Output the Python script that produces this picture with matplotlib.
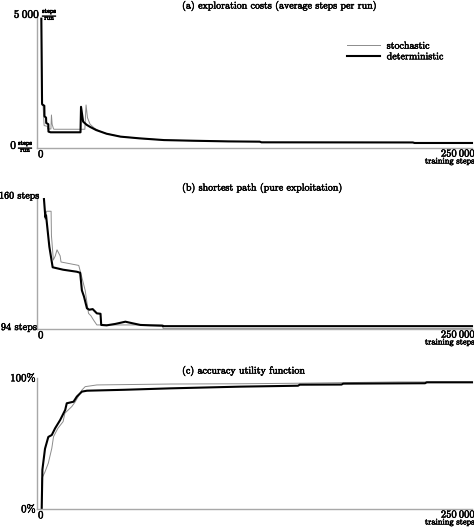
import matplotlib
matplotlib.use("Agg")
import matplotlib.pyplot as plt
import matplotlib.patheffects as pe
from matplotlib.transforms import offset_copy

plt.rcParams['font.family'] = ['cmr10', 'DejaVu Serif']
plt.rcParams['mathtext.fontset'] = 'cm'
plt.rcParams['axes.unicode_minus'] = False
plt.rcParams['axes.formatter.use_mathtext'] = True

# ---------------- data (training steps, value) ----------------
# (a) exploration costs (average steps per run)
a_det_x = [2500, 2900, 3000, 4200, 4300, 5200, 5300, 6500, 6600, 7800, 25000, 25300,
           26500, 28500, 30500, 34000, 40000, 48000, 59000, 73000, 90000, 110000,
           128000, 129000, 216000, 217000, 250000]
a_det_y = [4900, 1700, 1650, 1600, 1200, 1150, 950, 900, 620, 595, 595, 1560,
           1000, 880, 800, 680, 540, 430, 365, 300, 275, 250,
           240, 215, 210, 190, 190]
a_sto_x = [2500, 2900, 3500, 4000, 4100, 6000, 6100, 8000, 8300, 8700, 9500, 10000,
           27500, 28200, 29000, 30500, 33000, 36000, 40000, 48000, 59000, 73000,
           90000, 110000, 128000, 129000, 216000, 217000, 250000]
a_sto_y = [4900, 1700, 1600, 950, 850, 820, 720, 720, 1250, 900, 720, 710,
           710, 1630, 1150, 900, 750, 640, 545, 435, 365, 300,
           275, 250, 240, 215, 210, 190, 190]

# (b) shortest path (pure exploitation)
b_det_x = [4000, 4800, 5200, 7100, 9000, 15000, 22900, 24800, 25000, 25800, 27000,
           28700, 30000, 32000, 34400, 36500, 36900, 40000, 45000, 50800, 55000,
           59400, 65000, 72400, 72500, 250000]
b_det_y = [158, 149, 150, 134.5, 124.4, 123.2, 122.2, 121.7, 120, 113, 110,
           104.2, 103.5, 103.8, 101.7, 101.5, 96, 95.8, 96.5, 97.6, 96.8,
           96, 95.8, 95.6, 95.4, 95.4]
b_sto_x = [4300, 4700, 5500, 8100, 8300, 9400, 10500, 11500, 13300, 13800, 22900,
           24000, 25000, 27700, 29600, 31000, 32500, 34400, 72000, 72500, 250000]
b_sto_y = [152, 148, 152, 152, 140, 128, 130, 133, 130, 127, 125.5,
           125.3, 122, 113, 101.7, 100.5, 98.4, 96, 96, 94.2, 94.2]

# (c) accuracy utility function (%)
c_det_x = [2700, 3100, 4600, 6500, 8500, 10400, 13300, 16200, 17100, 21000, 22900,
           25800, 28700, 50000, 76700, 116700, 150000, 151000, 175000, 176000,
           223000, 224000, 250000]
c_det_y = [0, 30, 46, 55, 56.5, 61.6, 67.9, 75.6, 80.7, 81.9, 85.8,
           89.6, 90.3, 91.0, 92.1, 93.4, 94.1, 94.9, 95.0, 95.7,
           96.0, 96.7, 96.7]
c_sto_x = [2700, 2800, 4500, 6500, 8500, 9500, 12000, 15000, 16000, 20000, 22000,
           25800, 27700, 34400, 76700, 116700, 150000, 208000, 250000]
c_sto_y = [0, 23.4, 28, 35, 46.3, 55.2, 61.6, 66.7, 73.1, 78.2, 81.9,
           90.8, 93.4, 94.7, 95.4, 95.6, 96.0, 97.0, 97.0]

x_max = 250000
titles = ["(a) exploration costs (average steps per run)",
          "(b) shortest path (pure exploitation)",
          "(c) accuracy utility function"]
series_labels = ["stochastic", "deterministic"]

# ---------------- layout ----------------
W, H = 474, 528
fig = plt.figure(figsize=(W / 100, H / 100), dpi=100)

def rect(top, bottom, left=37, right=472):
    return [left / W, 1 - bottom / H, (right - left) / W, (bottom - top) / H]

def fx(px):
    return px / W

def fy(py):
    return 1 - py / H

ax_a = fig.add_axes(rect(16, 148))
ax_b = fig.add_axes(rect(195, 329))
ax_c = fig.add_axes(rect(378, 509))

GRAY = '#8c8c8c'
AXC = '#a8a8a8'
FS = 7.2
BOLD = [pe.withStroke(linewidth=0.35, foreground='black')]

def px_off(ax, dx_px, dy_px):
    # offset in pixels (positive dy = downwards) from a point in axes coords
    return offset_copy(ax.transAxes, fig=fig, x=dx_px * 0.72, y=-dy_px * 0.72, units='points')

panels = [
    (ax_a, a_sto_x, a_sto_y, a_det_x, a_det_y, (0, 5000), 6),
    (ax_b, b_sto_x, b_sto_y, b_det_x, b_det_y, (94, 160), 188),
    (ax_c, c_sto_x, c_sto_y, c_det_x, c_det_y, (0, 100), 371),
]

TS = '\u2009'  # thin space

for i, (ax, sx, sy, dx, dy, ylim, ty) in enumerate(panels):
    ls, = ax.plot(sx, sy, color=GRAY, lw=0.7, clip_on=False, label=series_labels[0])
    ld, = ax.plot(dx, dy, color='black', lw=1.5, clip_on=False, label=series_labels[1])
    ax.set_xlim(0, x_max)
    ax.set_ylim(*ylim)
    for s in ['top', 'right']:
        ax.spines[s].set_visible(False)
    for s in ['left', 'bottom']:
        ax.spines[s].set_color(AXC)
        ax.spines[s].set_linewidth(1.0)
    ax.set_xticks([])
    ax.set_yticks([])
    ax.patch.set_alpha(0)
    fig.text(fx(182), fy(ty), titles[i], fontsize=FS, ha='left', va='center',
             path_effects=BOLD)
    # x labels
    ax.text(0, 0, '0', transform=px_off(ax, 3.7, 6.5), fontsize=FS + 0.6,
            ha='center', va='center', path_effects=BOLD)
    ax.text(1, 0, '250' + TS + '000', transform=px_off(ax, 2.5, 1.0), fontsize=FS + 0.4,
            ha='right', va='top', path_effects=BOLD)
    ax.text(1, 0, 'training steps', transform=px_off(ax, 2.5, 9.0), fontsize=FS - 1.2,
            ha='right', va='top', path_effects=BOLD)
    if i == 0:
        leg = ax.legend(handles=[ls, ld], loc='upper left',
                        bbox_to_anchor=((346.7 - 37) / 435, 0.81),
                        frameon=False, fontsize=FS, handlelength=3.3,
                        handletextpad=0.7, labelspacing=0.12, borderpad=0, borderaxespad=0)
        for t in leg.get_texts():
            t.set_path_effects(BOLD)

frac = r'$\frac{\mathrm{steps}}{\mathrm{run}}$'
YFS = FS + 0.6
# (a) y labels
ax_a.text(0, 1, '5' + TS + '000', transform=px_off(ax_a, 2, -1), fontsize=YFS + 0.4,
          ha='right', va='center', path_effects=BOLD)
ax_a.text(0, 1, frac, transform=px_off(ax_a, 5, -2), fontsize=FS - 0.6,
          ha='left', va='center', path_effects=BOLD)
ax_a.text(0, 0, '0', transform=px_off(ax_a, -21, -2), fontsize=YFS + 0.4,
          ha='right', va='center', path_effects=BOLD)
ax_a.text(0, 0, frac, transform=px_off(ax_a, -19, -2), fontsize=FS - 0.6,
          ha='left', va='center', path_effects=BOLD)
# (b) y labels
ax_b.text(0, 1, '160 steps', transform=px_off(ax_b, 2, 0.5), fontsize=FS,
          ha='right', va='center', path_effects=BOLD)
ax_b.text(0, 0, '94 steps', transform=px_off(ax_b, 0, -2), fontsize=FS + 0.2,
          ha='right', va='center', path_effects=BOLD)
# (c) y labels
ax_c.text(0, 1, '100%', transform=px_off(ax_c, -1.5, 0.5), fontsize=YFS,
          ha='right', va='center', path_effects=BOLD)
ax_c.text(0, 0, '0%', transform=px_off(ax_c, -1.5, 0.5), fontsize=YFS,
          ha='right', va='center', path_effects=BOLD)

fig.savefig('out.png', dpi=100)
